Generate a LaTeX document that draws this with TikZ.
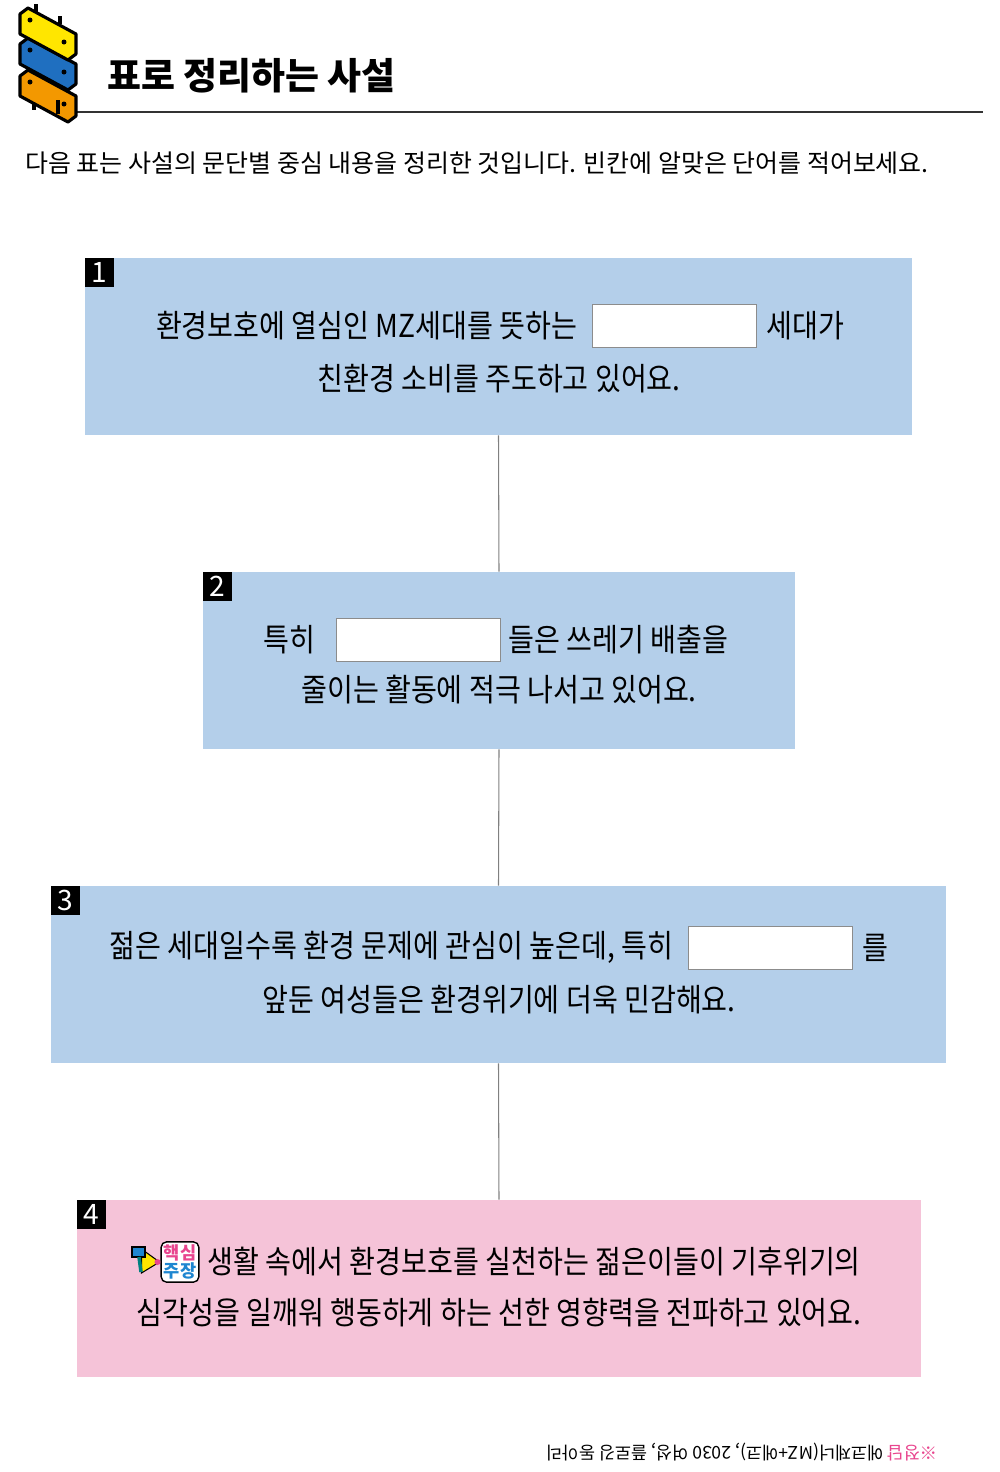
\documentclass[tikz,border=0pt]{standalone}
\usepackage{fontspec}
\setmainfont{Noto Sans CJK KR}
\usetikzlibrary{positioning}
\definecolor{boxblue}{HTML}{B4CFEA}
\definecolor{boxpink}{HTML}{F5C3D8}
\definecolor{keypink}{HTML}{E8458E}
\definecolor{keyblue}{HTML}{1E86D0}
\definecolor{plateyellow}{HTML}{FFE600}
\definecolor{plateblue}{HTML}{1F6FC0}
\definecolor{plateorange}{HTML}{F39800}
\tikzset{
  para/.style={draw=none, minimum height=177*0.02cm, inner sep=0pt},
  badge/.style={fill=black, text=white, minimum size=29*0.02cm, inner sep=0pt, font=\fontsize{16}{16}\selectfont},
  blank/.style={draw=black!45, fill=white, minimum width=164*0.02cm, minimum height=43*0.02cm, inner sep=0pt},
  txt/.style={inner sep=0pt, font=\fontsize{18}{18}\selectfont, xscale=0.89, transform shape},
  link/.style={draw=black!50, line width=0.6pt}
}
\begin{document}
\begin{tikzpicture}[x=0.02cm, y=-0.02cm]
\useasboundingbox (0,0) rectangle (1000,1472);
% header
\node[anchor=west, inner sep=0pt, font=\fontsize{21}{21}\selectfont\bfseries] (title) at (107,76) {표로 정리하는 사설};
\draw[line width=1.2pt, black!80] (60,112) -- (983,112);
% icon
\foreach \yy/\cc in {62/plateorange, 30/plateblue, 0/plateyellow} {
  \draw[line width=1.8pt, line join=round, fill=\cc] (20,\yy+14) -- (28,\yy+8) -- (76,\yy+34) -- (76,\yy+54) -- (68,\yy+60) -- (20,\yy+34) -- cycle;
  \fill (30,\yy+20) circle (2.5);
  \fill (64,\yy+42) circle (2.5);
}
\draw[line width=2.5pt] (36,4) -- (36,12) (60,16) -- (60,24) (34,104) -- (34,110) (58,100) -- (58,114);
% instruction
\node[anchor=west, inner sep=0pt, font=\fontsize{14.2}{14.2}\selectfont] (intro) at (25,163) {다음 표는 사설의 문단별 중심 내용을 정리한 것입니다. 빈칸에 알맞은 단어를 적어보세요.};
% boxes
\node[para, fill=boxblue, minimum width=827*0.02cm] (s1) at (498.5,346.5) {};
\node[para, fill=boxblue, minimum width=592*0.02cm] (s2) at (499,660.5) {};
\node[para, fill=boxblue, minimum width=895*0.02cm] (s3) at (498.5,974.5) {};
\node[para, fill=boxpink, minimum width=844*0.02cm] (s4) at (499,1288.5) {};
\draw[link] (s1.south) -- (s2.north);
\draw[link] (s2.south) -- (s3.north);
\draw[link] (s3.south) -- (s4.north);
\foreach \n in {1,2,3,4} {
  \node[badge, anchor=north west] (b\n) at (s\n.north west) {\n};
}
% box 1
\node[blank] (k1) at (674,325.5) {};
\node[txt, anchor=east] (t1a) at ([xshift=-14*0.02cm]k1.west) {환경보호에 열심인 MZ세대를 뜻하는};
\node[txt, anchor=west] (t1b) at ([xshift=10*0.02cm]k1.east) {세대가};
\node[txt] (t1c) at (499,379) {친환경 소비를 주도하고 있어요.};
% box 2
\node[blank] (k2) at (418,639.5) {};
\node[txt, anchor=east] (t2a) at ([xshift=-20*0.02cm]k2.west) {특히};
\node[txt, anchor=west] (t2b) at ([xshift=8*0.02cm]k2.east) {들은 쓰레기 배출을};
\node[txt] (t2c) at (499,690) {줄이는 활동에 적극 나서고 있어요.};
% box 3
\node[blank] (k3) at (770,947.5) {};
\node[txt, anchor=east] (t3a) at ([xshift=-14*0.02cm]k3.west) {젊은 세대일수록 환경 문제에 관심이 높은데, 특히};
\node[txt, anchor=west] (t3b) at ([xshift=10*0.02cm]k3.east) {를};
\node[txt] (t3c) at (499,1000) {앞둔 여성들은 환경위기에 더욱 민감해요.};
% box 4
\node[draw=black, line width=0.8pt, fill=white, rounded corners=3pt, inner sep=1.5pt, align=center, font=\fontsize{10}{10.5}\selectfont\bfseries] (key) at (180,1262) {\textcolor{keypink}{핵심}\\\textcolor{keyblue}{주장}};
\draw[line width=0.6pt, fill=plateyellow] ([xshift=-1*0.02cm]key.west) -- ++(-18,-13) -- ++(0,24) -- cycle;
\fill[keypink] ([xshift=-3*0.02cm]key.west) circle (3);
\draw[line width=0.6pt, fill=keyblue] (132,1247) rectangle (145,1257);
\draw[line width=2pt, teal] (139,1257) -- (141,1272);
\node[txt, anchor=west] (t4a) at ([xshift=8*0.02cm]key.east) {생활 속에서 환경보호를 실천하는 젊은이들이 기후위기의};
\node[txt] (t4b) at (499,1313) {심각성을 일깨워 행동하게 하는 선한 영향력을 전파하고 있어요.};
% answer
\node[inner sep=0pt, rotate=180, anchor=west, font=\fontsize{10}{10}\selectfont] (ans) at (938,1452) {\textcolor{keypink}{※정답} 에코제너(MZ+에코), 2030 여성, 플로깅 동아리};
\end{tikzpicture}
\end{document}
